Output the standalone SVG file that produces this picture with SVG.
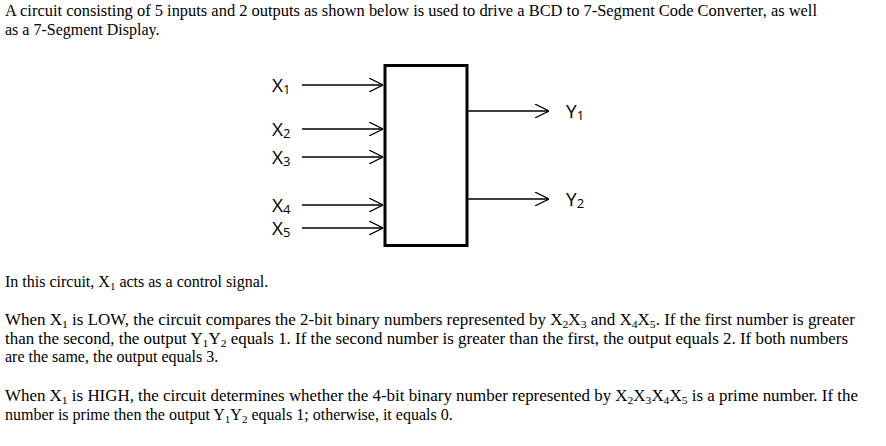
<svg xmlns="http://www.w3.org/2000/svg" width="886" height="446" viewBox="0 0 886 446">
<style>
.t{font-family:"Liberation Serif",serif;font-size:16px;fill:#000}
.l{font-family:"Open Sans","Liberation Sans",sans-serif;font-size:19px;fill:#000}
.s{font-size:11px}
.ls{font-size:13px}
.w{stroke:#000;stroke-width:1.3;fill:none}
</style>
<defs><marker id="a" viewBox="0 0 14 14" refX="14" refY="7" markerWidth="14" markerHeight="14" markerUnits="userSpaceOnUse" orient="auto"><path d="M0,0 L14,7 L0,14" fill="none" stroke="#000" stroke-width="1.2"/></marker></defs>
<rect width="886" height="446" fill="#fff"/>
<g class="t">
<text x="5" y="16" textLength="812" lengthAdjust="spacingAndGlyphs">A circuit consisting of 5 inputs and 2 outputs as shown below is used to drive a BCD to 7-Segment Code Converter, as well</text>
<text x="5" y="35">as a 7-Segment Display.</text>
<text x="5" y="287">In this circuit, X<tspan class="s" dy="3">1</tspan><tspan dy="-3"> acts as a control signal.</tspan></text>
<text x="5" y="325" textLength="850" lengthAdjust="spacingAndGlyphs">When X<tspan class="s" dy="3">1</tspan><tspan dy="-3"> is LOW, the circuit compares the 2-bit binary numbers represented by X</tspan><tspan class="s" dy="3">2</tspan><tspan dy="-3">X</tspan><tspan class="s" dy="3">3</tspan><tspan dy="-3"> and X</tspan><tspan class="s" dy="3">4</tspan><tspan dy="-3">X</tspan><tspan class="s" dy="3">5</tspan><tspan dy="-3">. If the first number is greater</tspan></text>
<text x="5" y="344" textLength="843" lengthAdjust="spacingAndGlyphs">than the second, the output Y<tspan class="s" dy="3">1</tspan><tspan dy="-3">Y</tspan><tspan class="s" dy="3">2</tspan><tspan dy="-3"> equals 1. If the second number is greater than the first, the output equals 2. If both numbers</tspan></text>
<text x="5" y="362">are the same, the output equals 3.</text>
<text x="5" y="401" textLength="853" lengthAdjust="spacingAndGlyphs">When X<tspan class="s" dy="3">1</tspan><tspan dy="-3"> is HIGH, the circuit determines whether the 4-bit binary number represented by X</tspan><tspan class="s" dy="3">2</tspan><tspan dy="-3">X</tspan><tspan class="s" dy="3">3</tspan><tspan dy="-3">X</tspan><tspan class="s" dy="3">4</tspan><tspan dy="-3">X</tspan><tspan class="s" dy="3">5</tspan><tspan dy="-3"> is a prime number. If the</tspan></text>
<text x="5" y="420">number is prime then the output Y<tspan class="s" dy="3">1</tspan><tspan dy="-3">Y</tspan><tspan class="s" dy="3">2</tspan><tspan dy="-3"> equals 1; otherwise, it equals 0.</tspan></text>
</g>
<g id="block"><rect x="385" y="65.5" width="82" height="180" fill="#fff" stroke="#000" stroke-width="3"/></g>
<g id="labels" class="l">
<text x="272" y="92">X<tspan class="ls" dy="2">1</tspan></text>
<text x="272" y="136">X<tspan class="ls" dy="2">2</tspan></text>
<text x="272" y="164">X<tspan class="ls" dy="2">3</tspan></text>
<text x="272" y="212">X<tspan class="ls" dy="2">4</tspan></text>
<text x="272" y="235">X<tspan class="ls" dy="2">5</tspan></text>
<text x="566" y="118">Y<tspan class="ls" dy="2">1</tspan></text>
<text x="566" y="206">Y<tspan class="ls" dy="2">2</tspan></text>
</g>
<g id="connectors" class="w" marker-end="url(#a)">
<path d="M302,85 H383"/><path d="M302,129 H383"/><path d="M302,157 H383"/><path d="M302,205 H383"/><path d="M302,228 H383"/>
<path d="M468,111 H549"/><path d="M468,199 H549"/>
</g>
</svg>
